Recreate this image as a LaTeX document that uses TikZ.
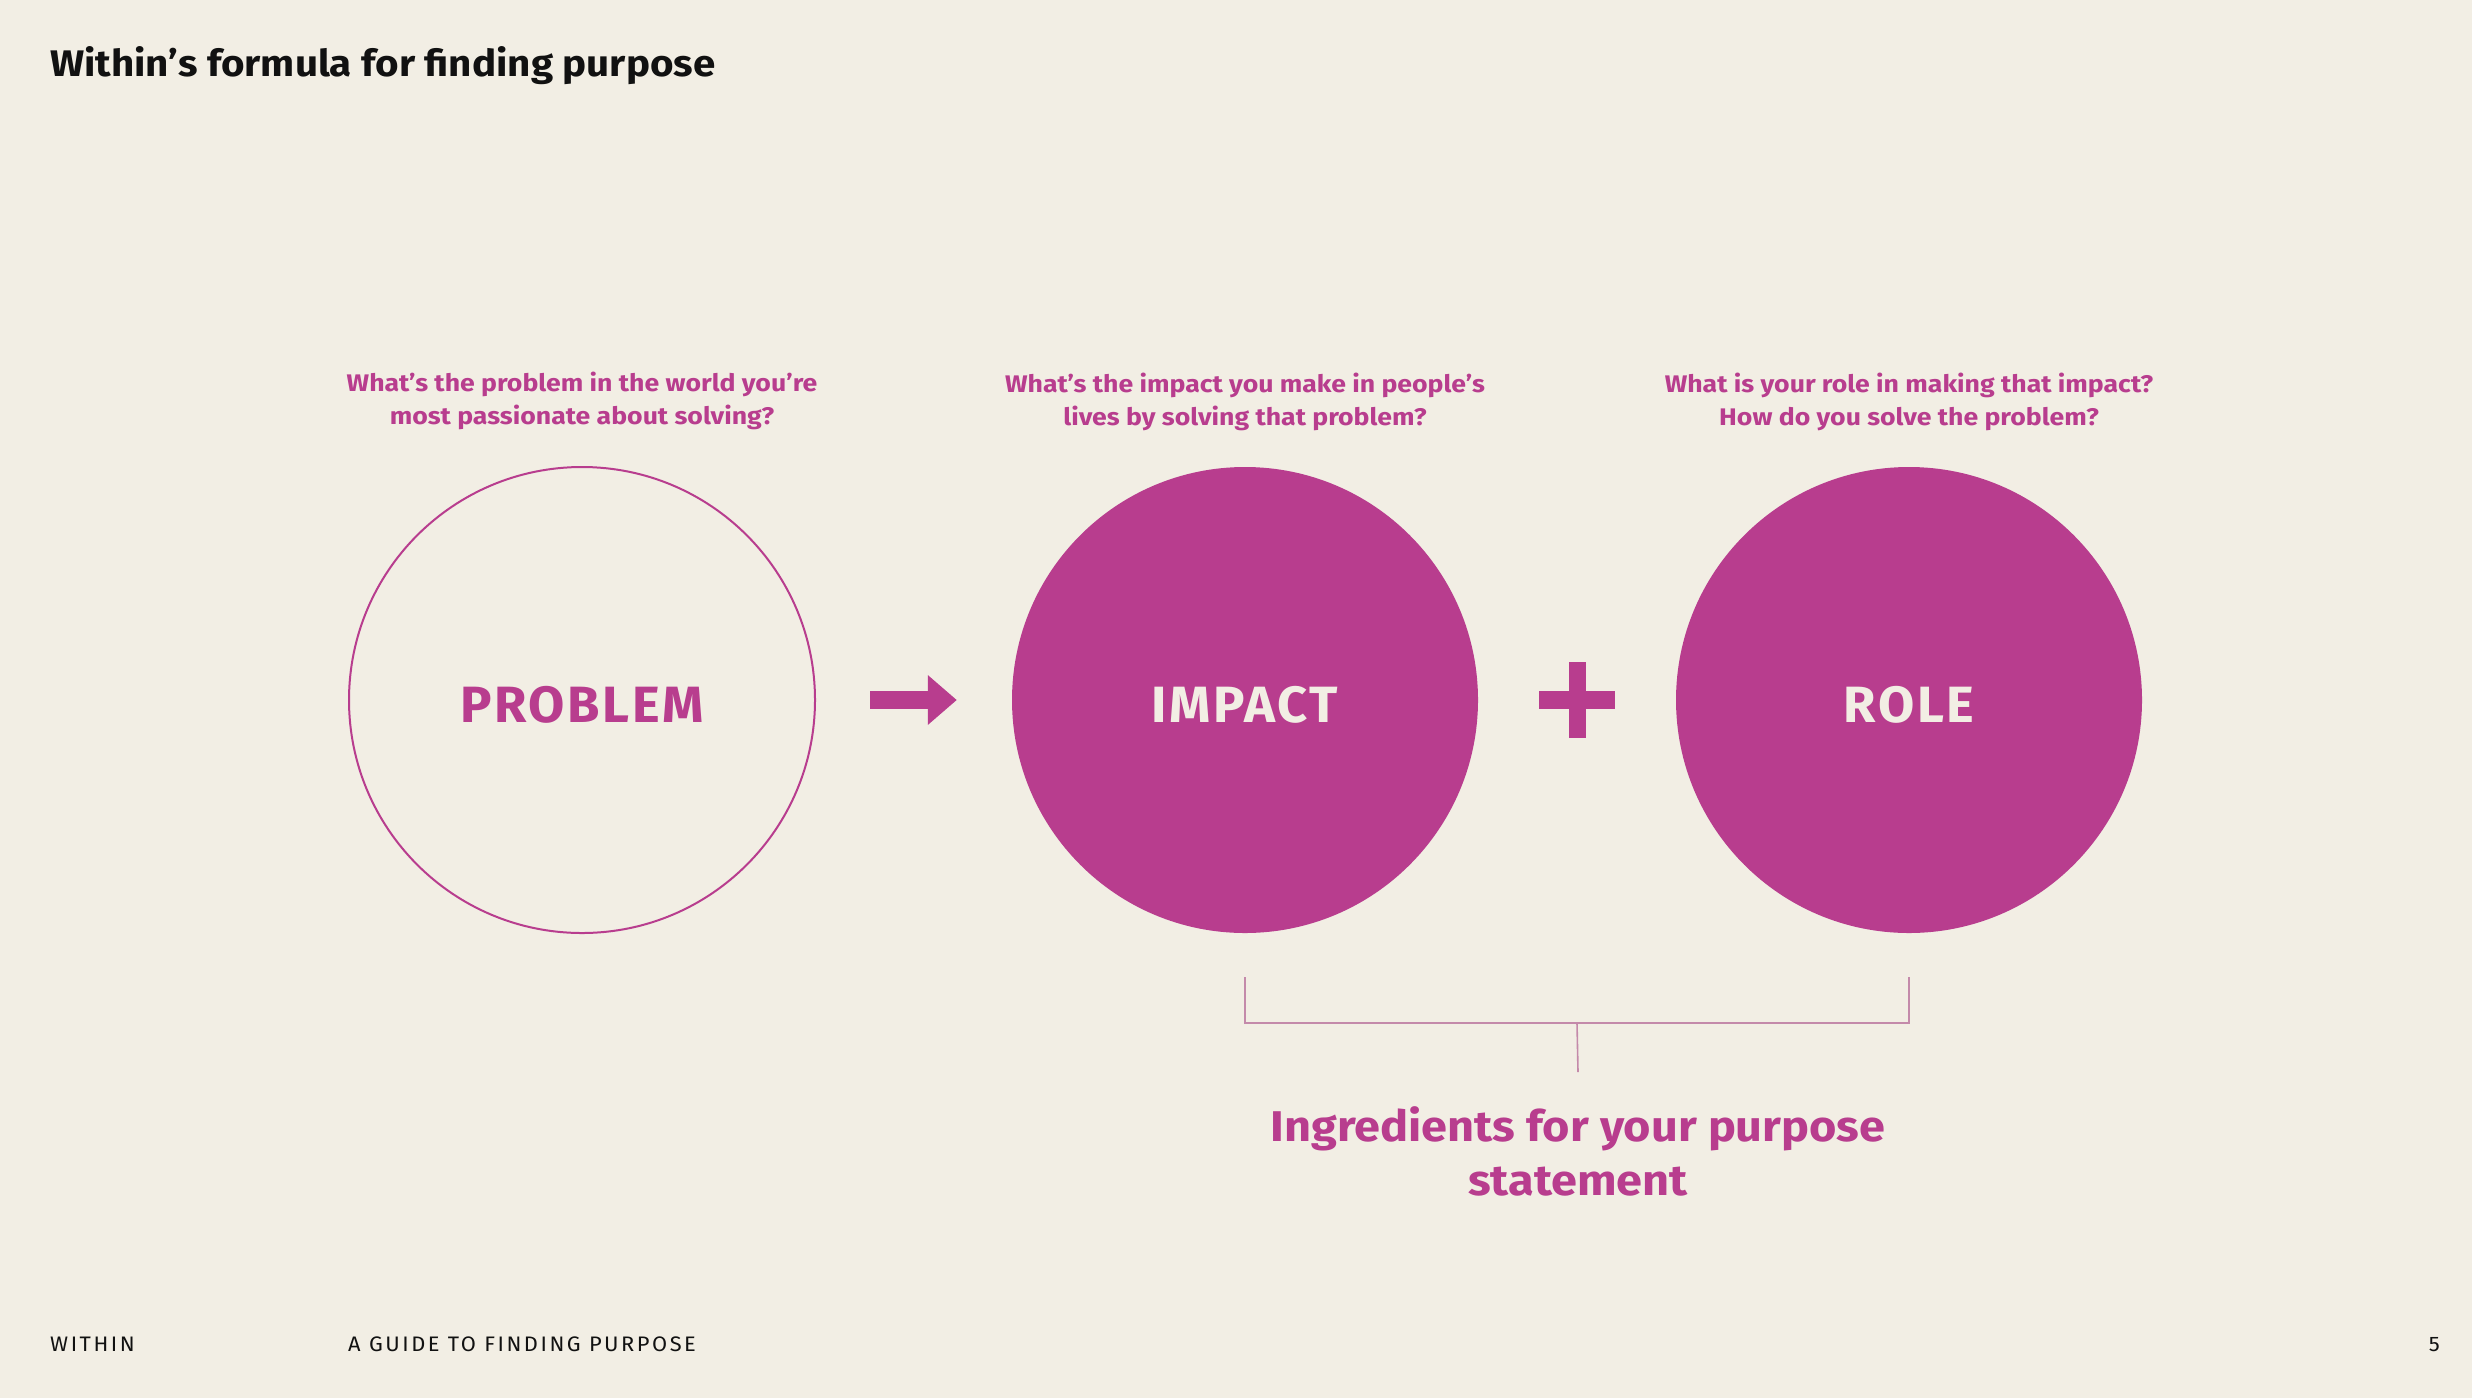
\documentclass[tikz,border=0pt]{standalone}
\usepackage{fontspec}
\setmainfont{Fira Sans}
\usetikzlibrary{arrows.meta,calc}
\definecolor{bg}{HTML}{F2EEE4}
\definecolor{mag}{HTML}{B83D8E}
\definecolor{brk}{HTML}{C48AAA}
\definecolor{ink}{HTML}{111111}
\begin{document}
\begin{tikzpicture}[x=1pt,y=-1pt,
  question/.style={text=mag, font=\bfseries\fontsize{24}{33}\selectfont\addfontfeatures{FakeStretch=1.11}, align=center, inner sep=0pt, anchor=south},
  ball/.style={circle, minimum size=466pt, inner sep=0pt, text height=44pt, text depth=0pt, font=\bfseries\fontsize{51}{51}\selectfont\addfontfeatures{LetterSpace=5,FakeStretch=1.03}},
  openball/.style={ball, draw=mag, line width=2pt, text=mag},
  fullball/.style={ball, fill=mag, text=bg},
  blockarrow/.style={mag, line width=18pt, -{Triangle[length=29pt,width=48pt]}},
  bracket/.style={draw=brk, line width=1.6pt},
  footer/.style={text=ink, font=\fontsize{21}{21}\selectfont\addfontfeatures{LetterSpace=12,FakeStretch=1.04}, inner sep=0pt},
  heading/.style={text=ink, font=\bfseries\fontsize{37}{40}\selectfont\addfontfeatures{FakeStretch=1.09}, inner sep=0pt},
  ingredients/.style={text=mag, font=\bfseries\fontsize{43}{54}\selectfont\addfontfeatures{FakeStretch=1.09}, align=center, inner sep=0pt}
]
\fill[bg] (0,0) rectangle (2472,1398);
\useasboundingbox (0,0) rectangle (2472,1398);

\node[heading, anchor=base west] (title) at (50,76) {Within’s formula for finding purpose};

\node[openball] (problem) at (582,700) {PROBLEM};
\node[fullball] (impact) at (1245,700) {IMPACT};
\node[fullball] (role) at (1909,700) {ROLE};

\node[question] (q1) at ($(problem.north)+(0,-36)$) {What’s the problem in the world you’re\\most passionate about solving?};
\node[question] (q2) at ($(impact.north)+(0,-36)$) {What’s the impact you make in people’s\\lives by solving that problem?};
\node[question] (q3) at ($(role.north)+(0,-36)$) {What is your role in making that impact?\\How do you solve the problem?};

\draw[blockarrow] ($(problem.east)+(54,0)$) -- ($(impact.west)+(-55,0)$);

\coordinate (plus) at ($(impact.east)!0.5!(role.west)$);
\fill[mag] ($(plus)+(-38,-9)$) rectangle ($(plus)+(38,9)$);
\fill[mag] ($(plus)+(-8.5,-38)$) rectangle ($(plus)+(8.5,38)$);

\coordinate (bl) at ($(impact.south)+(0,44)$);
\coordinate (br) at ($(role.south)+(0,44)$);
\draw[bracket] (bl) -- ++(0,46) -| (br);
\coordinate (stemtop) at ($(bl)!0.5!(br)+(0,46)$);

\node[ingredients, anchor=north] (ingr) at (1578,1106) {Ingredients for your purpose\\statement};
\draw[bracket] (stemtop) -- ($(ingr.north)+(0,-34)$);

\node[footer, anchor=base west] (brand) at (50,1351) {WITHIN};
\node[footer, anchor=base west] (guide) at (348,1351) {A GUIDE TO FINDING PURPOSE};
\node[footer, anchor=base east] (page) at (2440,1351) {5};
\end{tikzpicture}
\end{document}
